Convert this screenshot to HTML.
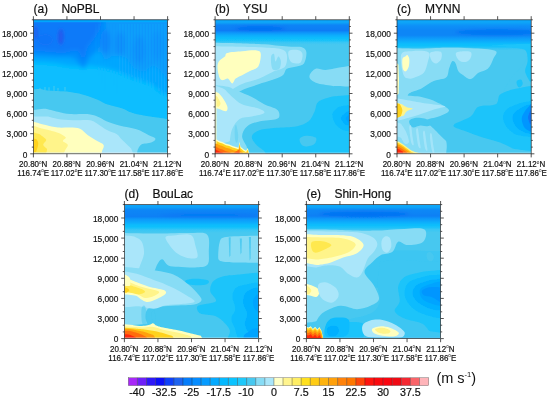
<!DOCTYPE html><html><head><meta charset="utf-8"><title>figure</title>
<style>html,body{margin:0;padding:0;background:#fff}svg{display:block}text{font-family:"Liberation Sans",sans-serif;fill:#111}.b{stroke:#111;stroke-width:0.2px}.n{stroke:none}</style></head><body>
<svg width="550" height="400" viewBox="0 0 550 400">
<rect width="550" height="400" fill="#fff"/>
<defs>
<clipPath id="cp"><rect x="0" y="0" width="134.2" height="134.0"/></clipPath>
<filter id="bl3" x="-20%" y="-20%" width="140%" height="140%"><feGaussianBlur stdDeviation="3"/></filter>
<filter id="bl25" x="-20%" y="-20%" width="140%" height="140%"><feGaussianBlur stdDeviation="2.2"/></filter>
<filter id="bl2" x="-20%" y="-50%" width="140%" height="200%"><feGaussianBlur stdDeviation="1.5"/></filter>
<filter id="bl05" x="-5%" y="-5%" width="110%" height="110%"><feGaussianBlur stdDeviation="0.45"/></filter>
<linearGradient id="ga" x1="0" y1="0" x2="0" y2="1"><stop offset="0" stop-color="#05b4ff"/><stop offset="0.03" stop-color="#05a0ff"/><stop offset="0.08" stop-color="#0592ff"/><stop offset="0.22" stop-color="#0598ff"/><stop offset="0.32" stop-color="#05a8ff"/><stop offset="0.42" stop-color="#05b8ff"/><stop offset="0.52" stop-color="#04befe"/><stop offset="1" stop-color="#08c0fe"/></linearGradient>
<linearGradient id="gb" x1="0" y1="0" x2="0" y2="1"><stop offset="0" stop-color="#10a8fa"/><stop offset="0.02" stop-color="#10a4f8"/><stop offset="0.04" stop-color="#0a84f6"/><stop offset="0.08" stop-color="#0a7cf5"/><stop offset="0.095" stop-color="#0894fa"/><stop offset="0.115" stop-color="#08acfc"/><stop offset="0.135" stop-color="#0cbcfc"/><stop offset="0.152" stop-color="#14c2fa"/><stop offset="0.168" stop-color="#38c6f5"/><stop offset="0.185" stop-color="#46c8f0"/><stop offset="1" stop-color="#46c8f0"/></linearGradient>
<linearGradient id="gc" x1="0" y1="0" x2="0" y2="1"><stop offset="0" stop-color="#10a8fa"/><stop offset="0.02" stop-color="#10a4f8"/><stop offset="0.045" stop-color="#0a90f8"/><stop offset="0.08" stop-color="#0a86f6"/><stop offset="0.115" stop-color="#0a86f6"/><stop offset="0.135" stop-color="#0898fa"/><stop offset="0.16" stop-color="#08acfc"/><stop offset="0.18" stop-color="#0cbcfc"/><stop offset="0.2" stop-color="#14c2fa"/><stop offset="0.215" stop-color="#38c6f5"/><stop offset="0.235" stop-color="#46c8f0"/><stop offset="1" stop-color="#46c8f0"/></linearGradient>
<linearGradient id="gd" x1="0" y1="0" x2="0" y2="1"><stop offset="0" stop-color="#10a4fa"/><stop offset="0.02" stop-color="#10a0f8"/><stop offset="0.04" stop-color="#0a86f6"/><stop offset="0.09" stop-color="#0a80f5"/><stop offset="0.108" stop-color="#0898fa"/><stop offset="0.135" stop-color="#08acfc"/><stop offset="0.152" stop-color="#0cbcfc"/><stop offset="0.172" stop-color="#14c2fa"/><stop offset="0.188" stop-color="#38c6f5"/><stop offset="0.21" stop-color="#46c8f0"/><stop offset="1" stop-color="#46c8f0"/></linearGradient>
<linearGradient id="ge" x1="0" y1="0" x2="0" y2="1"><stop offset="0" stop-color="#10a8fa"/><stop offset="0.02" stop-color="#10a4f8"/><stop offset="0.04" stop-color="#0a88f6"/><stop offset="0.085" stop-color="#0a80f5"/><stop offset="0.105" stop-color="#0896fa"/><stop offset="0.13" stop-color="#08acfc"/><stop offset="0.15" stop-color="#0cbcfc"/><stop offset="0.168" stop-color="#14c2fa"/><stop offset="0.185" stop-color="#38c6f5"/><stop offset="0.205" stop-color="#46c8f0"/><stop offset="1" stop-color="#46c8f0"/></linearGradient>
</defs>
<g transform="translate(33.4,19.8)"><g clip-path="url(#cp)"><g filter="url(#bl05)">
<rect x="0.0" y="0.0" width="134.2" height="134.0" fill="#07beff" />
<g filter="url(#bl25)">
<path d="M-10.0,-10.0L-10.0,42.0C-5.0,42.2 11.7,42.3 20.0,43.0C23.3,43.5 33.3,45.5 40.0,46.0C46.7,46.5 53.3,45.3 60.0,46.0C66.7,46.7 73.3,48.0 80.0,50.0C86.7,52.0 93.7,55.7 100.0,58.0C106.3,60.3 113.3,61.7 118.0,64.0C122.7,66.3 126.3,70.7 128.0,72.0C133.3,74.7 146.3,78.7 150.0,80.0L150.0,-10.0L-10.0,-10.0Z" fill="#05a6ff" />
<path d="M-10.0,-10.0L-10.0,36.0C-5.0,36.2 11.7,36.7 20.0,37.0C23.3,37.2 35.0,36.2 40.0,38.0C45.0,39.8 47.3,48.0 50.0,48.0C52.7,48.0 53.3,40.7 56.0,38.0C58.7,35.3 63.3,31.7 66.0,32.0C68.7,32.3 69.7,39.3 72.0,40.0C74.3,40.7 76.7,36.3 80.0,36.0C83.3,35.7 88.7,36.0 92.0,38.0C95.3,40.0 97.0,45.7 100.0,48.0C103.0,50.3 106.7,52.3 110.0,52.0C113.3,51.7 117.0,46.0 120.0,46.0C123.0,46.0 126.7,51.0 128.0,52.0C130.7,54.7 134.7,60.3 136.0,62.0L150.0,64.0L150.0,-10.0L-10.0,-10.0Z" fill="#0898fb" />
<path d="M-10.0,-10.0L-10.0,36.0C-5.0,36.2 11.7,36.7 20.0,37.0C23.3,37.2 35.0,36.2 40.0,38.0C45.0,39.8 47.3,48.0 50.0,48.0C52.7,48.0 53.7,41.0 56.0,38.0C58.3,35.0 61.7,33.0 64.0,30.0C66.3,27.0 69.0,21.7 70.0,20.0C71.7,13.3 73.3,-5.0 74.0,-10.0L-10.0,-10.0Z" fill="#068cfc" />
<path d="M-10.0,-10.0L-10.0,31.0C-5.7,31.2 9.3,31.7 16.0,32.0C18.3,32.2 25.3,33.2 30.0,33.0C34.7,32.8 40.7,29.8 44.0,31.0C47.3,32.2 48.3,40.5 50.0,40.0C51.7,39.5 52.3,31.3 54.0,28.0C55.7,24.7 58.0,23.0 60.0,20.0C62.0,17.0 65.0,11.7 66.0,10.0C67.7,5.0 69.3,-6.7 70.0,-10.0L-10.0,-10.0Z" fill="#0a7af9" />
<ellipse cx="72" cy="22" rx="5" ry="12" fill="#0a80fa" opacity="0.8"/>
<ellipse cx="87" cy="24" rx="5" ry="12" fill="#0a84fa" opacity="0.7"/>
<ellipse cx="106" cy="30" rx="6" ry="14" fill="#0a84fa" opacity="0.6"/>
<ellipse cx="124" cy="26" rx="6" ry="14" fill="#0a88fc" opacity="0.5"/>
</g>
<g filter="url(#bl2)">
<ellipse cx="27.4" cy="17" rx="3" ry="8" fill="#2458ec" opacity="0.85"/>
<ellipse cx="2.5" cy="13" rx="2.5" ry="7" fill="#2060ee" opacity="0.8"/>
<ellipse cx="12" cy="20" rx="8" ry="6" fill="#0c70f6" opacity="0.6"/>
</g>
<rect x="0.0" y="0.0" width="134.2" height="2.4" fill="#05aeff" opacity="0.85"/>
<rect x="62" y="4" width="1.1" height="44" fill="#30c0ff" opacity="0.12"/>
<rect x="65" y="4" width="1.1" height="52" fill="#30c0ff" opacity="0.12"/>
<rect x="68" y="4" width="1.1" height="60" fill="#30c0ff" opacity="0.12"/>
<rect x="71" y="4" width="1.1" height="67" fill="#30c0ff" opacity="0.12"/>
<rect x="74" y="4" width="1.1" height="47" fill="#30c0ff" opacity="0.12"/>
<rect x="77" y="4" width="1.1" height="55" fill="#30c0ff" opacity="0.12"/>
<rect x="80" y="4" width="1.1" height="62" fill="#30c0ff" opacity="0.12"/>
<rect x="83" y="4" width="1.1" height="70" fill="#30c0ff" opacity="0.12"/>
<rect x="86" y="4" width="1.1" height="50" fill="#30c0ff" opacity="0.28"/>
<rect x="89" y="4" width="1.1" height="58" fill="#30c0ff" opacity="0.28"/>
<rect x="92" y="4" width="1.1" height="66" fill="#30c0ff" opacity="0.28"/>
<rect x="95" y="4" width="1.1" height="73" fill="#30c0ff" opacity="0.28"/>
<rect x="98" y="4" width="1.1" height="53" fill="#30c0ff" opacity="0.28"/>
<rect x="101" y="4" width="1.1" height="61" fill="#30c0ff" opacity="0.28"/>
<rect x="104" y="4" width="1.1" height="68" fill="#30c0ff" opacity="0.28"/>
<rect x="107" y="4" width="1.1" height="76" fill="#30c0ff" opacity="0.28"/>
<rect x="110" y="4" width="1.1" height="56" fill="#30c0ff" opacity="0.28"/>
<rect x="113" y="4" width="1.1" height="64" fill="#30c0ff" opacity="0.28"/>
<rect x="116" y="4" width="1.1" height="72" fill="#30c0ff" opacity="0.28"/>
<rect x="119" y="4" width="1.1" height="79" fill="#30c0ff" opacity="0.28"/>
<rect x="122" y="4" width="1.1" height="59" fill="#30c0ff" opacity="0.28"/>
<rect x="125" y="4" width="1.1" height="67" fill="#30c0ff" opacity="0.28"/>
<rect x="128" y="4" width="1.1" height="74" fill="#30c0ff" opacity="0.28"/>
<rect x="131" y="4" width="1.1" height="82" fill="#30c0ff" opacity="0.28"/>
<rect x="6" y="68" width="1.2" height="3" fill="#46c8f0"/>
<rect x="11" y="67" width="1.2" height="4" fill="#46c8f0"/>
<rect x="15" y="67.5" width="1.2" height="3.5" fill="#46c8f0"/>
<rect x="20" y="66" width="1.2" height="5" fill="#46c8f0"/>
<rect x="24" y="68" width="1.2" height="3" fill="#46c8f0"/>
<rect x="31" y="67" width="1.2" height="4" fill="#46c8f0"/>
<path d="M-2.5,69.8C-0.8,69.7 4.5,69.2 7.4,69.3C8.6,69.6 11.9,70.5 14.7,70.8C17.6,71.1 20.9,71.0 24.5,71.3C28.2,71.5 32.7,71.7 36.8,72.3C40.9,72.8 44.6,73.5 49.1,74.7C53.6,75.9 59.7,78.0 63.8,79.6C67.9,81.2 69.5,83.0 73.6,84.5C77.7,86.0 84.3,87.0 88.4,88.4C92.5,89.8 94.5,91.6 98.2,92.8C101.9,94.1 105.5,94.9 110.5,95.8C115.4,96.7 124.8,97.8 127.6,98.2C132.5,98.9 137.9,99.5 139.9,99.7L139.9,140.9L-2.5,140.9L-2.5,69.8Z" fill="#46c8f0" />
<path d="M-2.5,90.6C0.0,90.4 7.8,88.7 12.3,88.9C14.3,89.4 20.5,91.0 24.5,91.9C28.6,92.8 31.9,93.9 36.8,94.3C41.7,94.7 49.5,93.9 54.0,94.3C58.5,94.7 60.5,95.5 63.8,96.8C67.1,98.0 70.0,100.2 73.6,101.7C77.3,103.1 81.0,104.3 85.9,105.6C90.8,106.9 98.2,107.9 103.1,109.5C108.0,111.1 112.2,113.8 115.4,115.4C118.5,116.9 121.6,117.6 122.0,118.8C122.4,120.0 120.1,121.8 117.8,122.7C115.5,123.7 110.2,123.5 108.0,124.7C105.8,125.9 104.9,129.0 104.3,129.9C103.5,132.5 103.3,139.0 103.1,140.9L-2.5,140.9L-2.5,90.6Z" fill="#87dcf5" />
<path d="M-2.5,96.8C0.4,96.8 10.2,96.4 14.7,96.8C16.4,97.2 20.5,98.6 24.5,99.2C28.6,99.8 34.0,100.2 39.3,100.4C44.6,100.6 52.3,99.8 56.5,100.4C60.6,101.1 61.4,102.5 64.3,104.1C67.2,105.8 70.4,108.5 73.6,110.2C76.8,112.0 80.9,112.7 83.5,114.4C86.0,116.1 86.5,117.9 88.9,120.3C91.2,122.7 96.2,127.2 97.7,128.6C99.7,132.1 100.6,138.8 101.1,140.9L-2.5,140.9L-2.5,96.8Z" fill="#aae6fa" />
<path d="M-2.5,101.7C-1.2,101.9 2.5,102.5 4.9,103.1C6.1,103.5 9.0,104.6 12.3,105.3C15.5,106.1 20.5,107.4 24.5,107.8C28.6,108.2 33.1,107.6 36.8,107.8C40.5,108.0 43.7,107.8 46.6,109.0C49.6,110.3 51.6,113.3 54.5,115.4C57.4,117.4 61.2,119.6 63.8,121.3C66.4,122.9 69.4,123.6 70.2,125.2C71.0,126.8 69.0,130.1 68.7,131.1C68.2,133.7 67.5,139.2 67.3,140.9L-2.5,140.9L-2.5,101.7Z" fill="#ffffbe" />
<path d="M-2.5,105.1C-0.4,105.8 6.1,108.0 9.8,109.0C11.5,109.4 16.8,110.7 19.6,111.5C22.5,112.3 24.9,112.9 27.0,113.9C29.1,115.0 32.0,116.6 32.4,117.8C32.8,119.1 29.1,120.0 29.5,121.3C29.8,122.5 34.0,123.7 34.4,125.2C34.8,126.7 32.3,129.3 31.9,130.1C30.6,132.7 27.4,139.1 26.5,140.9L-2.5,140.9L-2.5,105.1Z" fill="#fff48a" />
<path d="M-2.5,112.0C-0.8,112.5 4.8,113.8 7.4,115.1C8.3,116.0 12.4,118.4 12.8,120.0C13.2,121.7 9.7,123.4 9.8,125.0C10.0,126.5 13.1,128.4 13.7,129.1C13.7,131.8 10.5,138.9 9.8,140.9L-2.5,140.9L-2.5,112.0Z" fill="#ffe850" />
<path d="M-2.5,117.8C-1.5,118.2 2.2,118.7 3.4,119.8C3.7,120.5 5.0,122.3 4.9,124.2C4.8,126.2 3.3,130.3 2.9,131.6C1.7,133.0 -1.6,132.4 -2.5,132.5L-2.5,117.8Z" fill="#ffd21e" />
<rect x="0.0" y="132.6" width="134.2" height="1.4" fill="#dff0f8" opacity="0.7"/>
</g></g>
<rect x="0" y="0" width="134.2" height="134.0" fill="none" stroke="#2a2a2a" stroke-width="0.7"/>
<path d="M0.00,134.0v3.6M0.00,0v-3.6M33.55,134.0v3.6M33.55,0v-3.6M67.10,134.0v3.6M67.10,0v-3.6M100.65,134.0v3.6M100.65,0v-3.6M134.20,134.0v3.6M134.20,0v-3.6M0,134.00h-3.2M134.2,134.00h3.2M0,127.30h-1.6M134.2,127.30h1.6M0,120.60h-1.6M134.2,120.60h1.6M0,113.90h-3.2M134.2,113.90h3.2M0,107.20h-1.6M134.2,107.20h1.6M0,100.50h-1.6M134.2,100.50h1.6M0,93.80h-3.2M134.2,93.80h3.2M0,87.10h-1.6M134.2,87.10h1.6M0,80.40h-1.6M134.2,80.40h1.6M0,73.70h-3.2M134.2,73.70h3.2M0,67.00h-1.6M134.2,67.00h1.6M0,60.30h-1.6M134.2,60.30h1.6M0,53.60h-3.2M134.2,53.60h3.2M0,46.90h-1.6M134.2,46.90h1.6M0,40.20h-1.6M134.2,40.20h1.6M0,33.50h-3.2M134.2,33.50h3.2M0,26.80h-1.6M134.2,26.80h1.6M0,20.10h-1.6M134.2,20.10h1.6M0,13.40h-3.2M134.2,13.40h3.2M0,6.70h-1.6M134.2,6.70h1.6M0,0.00h-1.6M134.2,0.00h1.6" stroke="#2a2a2a" stroke-width="0.8" fill="none"/>
<text transform="translate(-6.0,137.7) scale(0.87,1)" font-size="9.6" text-anchor="end" class="b">0</text>
<text transform="translate(-6.0,117.6) scale(0.87,1)" font-size="9.6" text-anchor="end" class="b">3,000</text>
<text transform="translate(-6.0,97.5) scale(0.87,1)" font-size="9.6" text-anchor="end" class="b">6,000</text>
<text transform="translate(-6.0,77.4) scale(0.87,1)" font-size="9.6" text-anchor="end" class="b">9,000</text>
<text transform="translate(-6.0,57.3) scale(0.87,1)" font-size="9.6" text-anchor="end" class="b">12,000</text>
<text transform="translate(-6.0,37.2) scale(0.87,1)" font-size="9.6" text-anchor="end" class="b">15,000</text>
<text transform="translate(-6.0,17.1) scale(0.87,1)" font-size="9.6" text-anchor="end" class="b">18,000</text>
<text transform="translate(-0.2,147.3) scale(0.86,1)" font-size="9.3" text-anchor="middle" class="b">20.80<tspan font-size="5.4" dy="-3.6" class="n">o</tspan><tspan dy="3.6">N</tspan></text>
<text transform="translate(-0.2,156.2) scale(0.86,1)" font-size="9.3" text-anchor="middle" class="b">116.74<tspan font-size="5.4" dy="-3.6" class="n">o</tspan><tspan dy="3.6">E</tspan></text>
<text transform="translate(33.3,147.3) scale(0.86,1)" font-size="9.3" text-anchor="middle" class="b">20.88<tspan font-size="5.4" dy="-3.6" class="n">o</tspan><tspan dy="3.6">N</tspan></text>
<text transform="translate(33.3,156.2) scale(0.86,1)" font-size="9.3" text-anchor="middle" class="b">117.02<tspan font-size="5.4" dy="-3.6" class="n">o</tspan><tspan dy="3.6">E</tspan></text>
<text transform="translate(66.9,147.3) scale(0.86,1)" font-size="9.3" text-anchor="middle" class="b">20.96<tspan font-size="5.4" dy="-3.6" class="n">o</tspan><tspan dy="3.6">N</tspan></text>
<text transform="translate(66.9,156.2) scale(0.86,1)" font-size="9.3" text-anchor="middle" class="b">117.30<tspan font-size="5.4" dy="-3.6" class="n">o</tspan><tspan dy="3.6">E</tspan></text>
<text transform="translate(100.4,147.3) scale(0.86,1)" font-size="9.3" text-anchor="middle" class="b">21.04<tspan font-size="5.4" dy="-3.6" class="n">o</tspan><tspan dy="3.6">N</tspan></text>
<text transform="translate(100.4,156.2) scale(0.86,1)" font-size="9.3" text-anchor="middle" class="b">117.58<tspan font-size="5.4" dy="-3.6" class="n">o</tspan><tspan dy="3.6">E</tspan></text>
<text transform="translate(134.0,147.3) scale(0.86,1)" font-size="9.3" text-anchor="middle" class="b">21.12<tspan font-size="5.4" dy="-3.6" class="n">o</tspan><tspan dy="3.6">N</tspan></text>
<text transform="translate(134.0,156.2) scale(0.86,1)" font-size="9.3" text-anchor="middle" class="b">117.86<tspan font-size="5.4" dy="-3.6" class="n">o</tspan><tspan dy="3.6">E</tspan></text>
<text x="0" y="-6.6" font-size="12" class="b">(a)</text>
<text x="28" y="-6.6" font-size="12" class="b">NoPBL</text>
</g>
<g transform="translate(215.1,19.8)"><g clip-path="url(#cp)"><g filter="url(#bl05)">
<rect x="0" y="0" width="134.2" height="134.0" fill="url(#gb)"/>
<g filter="url(#bl2)">
<ellipse cx="45" cy="8.7" rx="26" ry="2.6" fill="#0a68f2" opacity="0.6"/>
</g>
<path d="M-2.5,23.0C2.0,23.1 16.0,23.3 24.5,23.5C28.6,23.7 42.5,24.1 49.1,24.5C55.6,24.9 59.3,25.6 63.8,26.0C68.3,26.4 72.2,26.7 76.1,27.0C80.0,27.2 84.8,26.7 87.4,27.7C89.9,28.7 91.1,30.2 91.3,32.8C91.6,35.5 90.5,41.3 88.9,43.6C87.2,45.9 84.4,45.7 81.5,46.6C78.6,47.5 74.2,47.4 71.7,49.0C69.1,50.7 70.9,53.8 66.3,56.4C61.7,58.9 51.1,61.7 44.2,64.2C37.2,66.7 29.5,68.8 24.5,71.6C19.6,74.3 16.4,79.3 14.7,80.9C10.2,82.4 0.4,80.9 -2.5,80.9L-2.5,23.0Z" fill="#87dcf5" />
<path d="M-2.5,26.5C2.0,26.6 16.0,26.8 24.5,27.0C28.6,27.1 42.1,27.3 49.1,27.7C56.0,28.1 62.5,28.2 66.3,29.4C70.0,30.6 71.1,31.9 71.7,34.8C72.3,37.7 72.1,43.8 70.0,46.6C67.8,49.3 63.2,49.4 58.9,51.5C54.6,53.5 49.5,56.7 44.2,58.8C38.9,60.9 31.9,62.2 27.0,64.2C22.1,66.3 16.8,69.9 14.7,71.1C9.8,72.6 0.4,73.1 -2.5,73.5L-2.5,26.5Z" fill="#aae6fa" />
<path d="M56.0,36.8C56.4,34.7 58.2,33.5 58.9,34.3C59.6,35.1 59.6,41.3 60.4,41.7C61.1,42.1 62.4,36.8 63.3,36.8C64.2,36.8 65.6,39.6 65.8,41.7C65.9,43.7 65.5,47.6 64.3,49.0C63.2,50.4 60.2,50.7 58.9,50.2C57.6,49.8 56.9,48.8 56.5,46.6C56.0,44.3 55.6,38.8 56.0,36.8Z" fill="#87dcf5" />
<path d="M73.6,31.4C75.0,29.6 81.2,29.9 83.5,30.4C85.7,30.9 87.0,32.4 87.4,34.3C87.8,36.3 87.0,40.6 85.9,42.2C84.8,43.7 82.8,43.8 81.0,43.6C79.2,43.5 76.3,43.2 75.1,41.2C73.9,39.1 72.2,33.2 73.6,31.4Z" fill="#aae6fa" />
<path d="M2.5,49.0C2.2,46.2 2.5,43.7 3.7,41.7C4.9,39.6 8.4,38.2 9.8,36.8C11.2,35.3 9.4,34.0 12.3,33.1C15.1,32.2 22.1,31.8 27.0,31.4C31.9,31.0 38.6,30.1 41.7,30.6C44.8,31.1 45.4,31.7 45.7,34.3C45.9,37.0 45.1,43.7 43.2,46.6C41.3,49.4 37.1,50.0 34.4,51.5C31.7,52.9 29.3,54.2 27.0,55.4C24.7,56.6 22.3,57.4 20.6,58.8C19.0,60.2 18.5,63.7 17.2,63.7C15.9,63.7 14.2,59.4 12.8,58.8C11.3,58.3 9.7,60.3 8.3,60.3C7.0,60.3 5.9,60.7 4.9,58.8C3.9,56.9 2.7,51.9 2.5,49.0Z" fill="#ffffbe" />
<path d="M94.5,55.4C95.2,53.5 98.0,49.9 100.6,49.0C103.3,48.2 106.8,50.4 110.5,50.2C114.1,50.1 120.7,48.4 122.7,48.0C127.6,47.2 137.0,45.6 139.9,45.1L139.9,66.7C136.2,66.6 124.0,66.7 117.8,66.2C115.4,65.8 106.7,64.7 103.1,63.7C99.5,62.7 97.7,61.7 96.2,60.3C94.8,58.9 93.8,57.3 94.5,55.4Z" fill="#87dcf5" />
<path d="M139.9,74.7C135.8,75.1 121.5,75.9 115.4,77.2C113.3,78.0 105.8,79.6 103.1,82.1C100.4,84.5 101.0,88.6 99.4,91.9C97.8,95.1 96.3,99.2 93.3,101.7C90.2,104.1 86.3,105.5 81.0,106.6C75.7,107.6 67.5,107.4 61.4,108.0C55.2,108.7 48.3,109.1 44.2,110.5C40.1,111.9 37.4,114.1 36.8,116.4C36.2,118.7 38.5,121.8 40.5,124.2C42.5,126.7 47.7,129.9 49.1,131.1C51.1,133.9 52.2,139.2 52.8,140.9L139.9,140.9L139.9,74.7Z" fill="#1cc4fa" />
<path d="M139.9,84.5C137.0,85.0 126.5,85.8 122.7,87.5C121.8,88.6 117.7,91.5 117.3,94.3C116.9,97.1 118.6,101.5 120.3,104.1C122.0,106.8 126.4,109.2 127.6,110.2C130.9,111.6 137.9,111.7 139.9,112.0L139.9,84.5Z" fill="#0cbcfe" />
<path d="M139.9,90.4C138.5,90.6 133.7,90.6 131.3,91.9C130.4,92.9 126.0,95.9 125.7,98.0C125.4,100.1 128.9,103.5 129.6,104.6C132.0,106.0 138.2,106.2 139.9,106.6L139.9,90.4Z" fill="#06b0ff" />
<path d="M139.9,93.8C138.9,94.0 135.3,94.0 133.8,94.8C133.2,95.5 130.6,97.3 130.6,98.7C130.6,100.1 133.2,102.4 133.8,103.1C135.3,104.0 138.9,104.0 139.9,104.1L139.9,93.8Z" fill="#05a4ff" />
<path d="M84.7,118.8C85.5,117.4 88.2,116.0 90.8,115.9C93.5,115.7 99.2,116.5 100.6,117.8C102.1,119.2 101.0,122.7 99.4,124.2C97.8,125.7 93.1,126.7 90.8,126.7C88.6,126.7 86.9,125.5 85.9,124.2C84.9,122.9 83.9,120.2 84.7,118.8Z" fill="#46c8f0" />
<path d="M-2.5,64.9C0.4,65.3 10.6,66.3 14.7,67.4C16.0,68.0 18.4,69.4 22.1,71.0C25.8,72.7 32.3,74.9 36.8,77.2C41.3,79.4 45.0,82.5 49.1,84.5C53.2,86.6 58.8,87.7 61.4,89.4C63.9,91.1 64.3,93.2 64.3,94.8C64.3,96.4 64.7,98.1 61.4,99.2C58.0,100.4 49.1,100.4 44.2,101.7C39.3,102.9 34.8,104.1 31.9,106.6C29.0,109.0 27.1,113.1 27.0,116.4C26.9,119.6 30.7,124.5 31.4,126.2C32.6,130.3 33.9,138.4 34.4,140.9L-2.5,140.9L-2.5,64.9Z" fill="#87dcf5" />
<path d="M-2.5,64.9C-0.4,65.7 6.5,67.8 9.8,69.8C11.0,71.0 14.3,74.7 17.2,77.2C20.0,79.6 22.5,82.5 27.0,84.5C31.5,86.5 40.5,87.5 44.2,88.9C47.9,90.4 50.3,91.8 49.1,93.1C47.9,94.4 40.9,95.7 36.8,96.8C32.7,97.8 27.8,97.2 24.5,99.2C21.3,101.3 18.8,105.3 17.2,109.0C15.5,112.7 15.1,119.2 14.7,121.3C11.5,123.7 0.4,123.3 -2.5,123.7L-2.5,64.9Z" fill="#aae6fa" />
<path d="M-2.5,71.0C-1.4,71.4 1.8,72.1 3.7,73.5C4.5,74.5 7.2,77.4 8.6,79.6C10.0,81.9 11.9,85.0 12.3,87.0C12.7,88.9 12.3,91.0 11.0,91.4C9.8,91.8 5.9,89.7 4.9,89.4C2.7,88.8 -1.2,87.8 -2.5,87.5L-2.5,71.0Z" fill="#ffffbe" />
<path d="M-2.5,74.7C-1.6,75.1 1.1,75.7 2.5,77.2C2.9,78.2 5.2,81.7 5.4,83.3C5.6,84.9 4.0,86.3 3.7,87.0C2.4,87.4 -1.4,85.9 -2.5,85.7L-2.5,74.7Z" fill="#fff48a" />
<path d="M19.6,109.0C19.8,106.5 20.5,104.0 21.1,105.1C21.7,106.2 22.9,112.5 23.1,115.4C23.2,118.3 22.6,121.9 22.1,122.7C21.6,123.6 20.5,122.6 20.1,120.3C19.7,118.0 19.5,111.6 19.6,109.0Z" fill="#46c8f0" opacity="0.35"/>
<path d="M-5.0,118.8L0.0,118.8L0.6,119.1L4.0,121.2L7.4,122.3L10.8,123.9L14.1,124.8L17.5,126.1L20.9,127.3L23.5,128.0L24.3,122.0L25.4,127.0L28.8,129.8L31.0,130.9L32.7,128.1L33.8,132.1L34.5,134.4L35.3,140.0L-5.0,140.0Z" fill="#ffffbe" />
<path d="M-5.0,120.3L0.0,120.3L0.6,120.6L4.0,122.7L7.4,123.8L10.8,125.4L14.1,126.3L17.5,127.6L20.9,128.8L23.5,129.5L24.3,123.5L25.4,128.5L28.8,131.3L31.0,132.4L32.7,129.6L33.8,133.6L34.6,140.0L-5.0,140.0Z" fill="#ffd21e" />
<path d="M-5.0,122.8L0.0,122.8L0.6,123.1L4.0,125.2L7.4,126.3L10.8,127.9L14.1,128.8L17.5,130.1L20.9,131.3L23.5,132.0L24.3,126.0L25.4,131.0L28.8,133.8L32.7,132.1L33.5,140.0L-5.0,140.0Z" fill="#ffa010" />
<path d="M-5.0,126.3L0.0,126.3L0.6,126.6L4.0,128.7L7.4,129.8L10.8,131.4L14.1,132.3L17.5,133.6L24.3,129.5L25.1,140.0L-5.0,140.0Z" fill="#ff6c08" />
<path d="M-5.0,129.3L0.0,129.3L0.6,129.6L4.0,131.7L7.4,132.8L10.8,134.4L24.3,132.5L25.1,140.0L-5.0,140.0Z" fill="#ff2a08" />
<rect x="0.0" y="80.0" width="1.4" height="44.0" fill="#ffffbe" opacity="0.9"/>
<rect x="0.0" y="132.8" width="134.2" height="1.2" fill="#e8f4fa" opacity="0.6"/>
</g></g>
<rect x="0" y="0" width="134.2" height="134.0" fill="none" stroke="#2a2a2a" stroke-width="0.7"/>
<path d="M0.00,134.0v3.6M0.00,0v-3.6M33.55,134.0v3.6M33.55,0v-3.6M67.10,134.0v3.6M67.10,0v-3.6M100.65,134.0v3.6M100.65,0v-3.6M134.20,134.0v3.6M134.20,0v-3.6M0,134.00h-3.2M134.2,134.00h3.2M0,127.30h-1.6M134.2,127.30h1.6M0,120.60h-1.6M134.2,120.60h1.6M0,113.90h-3.2M134.2,113.90h3.2M0,107.20h-1.6M134.2,107.20h1.6M0,100.50h-1.6M134.2,100.50h1.6M0,93.80h-3.2M134.2,93.80h3.2M0,87.10h-1.6M134.2,87.10h1.6M0,80.40h-1.6M134.2,80.40h1.6M0,73.70h-3.2M134.2,73.70h3.2M0,67.00h-1.6M134.2,67.00h1.6M0,60.30h-1.6M134.2,60.30h1.6M0,53.60h-3.2M134.2,53.60h3.2M0,46.90h-1.6M134.2,46.90h1.6M0,40.20h-1.6M134.2,40.20h1.6M0,33.50h-3.2M134.2,33.50h3.2M0,26.80h-1.6M134.2,26.80h1.6M0,20.10h-1.6M134.2,20.10h1.6M0,13.40h-3.2M134.2,13.40h3.2M0,6.70h-1.6M134.2,6.70h1.6M0,0.00h-1.6M134.2,0.00h1.6" stroke="#2a2a2a" stroke-width="0.8" fill="none"/>
<text transform="translate(-6.0,137.7) scale(0.87,1)" font-size="9.6" text-anchor="end" class="b">0</text>
<text transform="translate(-6.0,117.6) scale(0.87,1)" font-size="9.6" text-anchor="end" class="b">3,000</text>
<text transform="translate(-6.0,97.5) scale(0.87,1)" font-size="9.6" text-anchor="end" class="b">6,000</text>
<text transform="translate(-6.0,77.4) scale(0.87,1)" font-size="9.6" text-anchor="end" class="b">9,000</text>
<text transform="translate(-6.0,57.3) scale(0.87,1)" font-size="9.6" text-anchor="end" class="b">12,000</text>
<text transform="translate(-6.0,37.2) scale(0.87,1)" font-size="9.6" text-anchor="end" class="b">15,000</text>
<text transform="translate(-6.0,17.1) scale(0.87,1)" font-size="9.6" text-anchor="end" class="b">18,000</text>
<text transform="translate(-0.2,147.3) scale(0.86,1)" font-size="9.3" text-anchor="middle" class="b">20.80<tspan font-size="5.4" dy="-3.6" class="n">o</tspan><tspan dy="3.6">N</tspan></text>
<text transform="translate(-0.2,156.2) scale(0.86,1)" font-size="9.3" text-anchor="middle" class="b">116.74<tspan font-size="5.4" dy="-3.6" class="n">o</tspan><tspan dy="3.6">E</tspan></text>
<text transform="translate(33.3,147.3) scale(0.86,1)" font-size="9.3" text-anchor="middle" class="b">20.88<tspan font-size="5.4" dy="-3.6" class="n">o</tspan><tspan dy="3.6">N</tspan></text>
<text transform="translate(33.3,156.2) scale(0.86,1)" font-size="9.3" text-anchor="middle" class="b">117.02<tspan font-size="5.4" dy="-3.6" class="n">o</tspan><tspan dy="3.6">E</tspan></text>
<text transform="translate(66.9,147.3) scale(0.86,1)" font-size="9.3" text-anchor="middle" class="b">20.96<tspan font-size="5.4" dy="-3.6" class="n">o</tspan><tspan dy="3.6">N</tspan></text>
<text transform="translate(66.9,156.2) scale(0.86,1)" font-size="9.3" text-anchor="middle" class="b">117.30<tspan font-size="5.4" dy="-3.6" class="n">o</tspan><tspan dy="3.6">E</tspan></text>
<text transform="translate(100.4,147.3) scale(0.86,1)" font-size="9.3" text-anchor="middle" class="b">21.04<tspan font-size="5.4" dy="-3.6" class="n">o</tspan><tspan dy="3.6">N</tspan></text>
<text transform="translate(100.4,156.2) scale(0.86,1)" font-size="9.3" text-anchor="middle" class="b">117.58<tspan font-size="5.4" dy="-3.6" class="n">o</tspan><tspan dy="3.6">E</tspan></text>
<text transform="translate(134.0,147.3) scale(0.86,1)" font-size="9.3" text-anchor="middle" class="b">21.12<tspan font-size="5.4" dy="-3.6" class="n">o</tspan><tspan dy="3.6">N</tspan></text>
<text transform="translate(134.0,156.2) scale(0.86,1)" font-size="9.3" text-anchor="middle" class="b">117.86<tspan font-size="5.4" dy="-3.6" class="n">o</tspan><tspan dy="3.6">E</tspan></text>
<text x="0" y="-6.6" font-size="12" class="b">(b)</text>
<text x="28" y="-6.6" font-size="12" class="b">YSU</text>
</g>
<g transform="translate(397.0,19.8)"><g clip-path="url(#cp)"><g filter="url(#bl05)">
<rect x="0" y="0" width="134.2" height="134.0" fill="url(#gc)"/>
<g filter="url(#bl2)">
<ellipse cx="100" cy="12.5" rx="42" ry="3.2" fill="#0a6cf2" opacity="0.6"/>
</g>
<path d="M-2.5,27.9C2.0,28.0 16.0,28.5 24.5,28.4C28.6,28.3 40.9,27.5 49.1,27.5C57.3,27.4 64.6,27.5 73.6,27.9C82.6,28.3 94.1,29.5 103.1,29.9C112.1,30.3 123.3,28.8 127.6,30.4C132.0,31.9 129.9,36.1 129.1,39.2C128.3,42.3 125.0,46.2 122.7,49.0C120.4,51.9 117.8,53.1 115.4,56.4C112.9,59.6 110.0,64.5 108.0,68.6C106.0,72.7 103.9,78.8 103.1,80.9C84.7,82.9 15.1,80.9 -2.5,80.9L-2.5,27.9Z" fill="#46c8f0" />
<path d="M-2.5,28.4C2.0,28.5 16.0,29.0 24.5,28.9C28.6,28.8 40.9,28.0 49.1,27.9C57.3,27.9 65.5,27.9 73.6,28.4C81.8,28.9 94.4,29.1 98.2,30.9C101.9,32.7 97.4,36.2 96.2,39.2C95.0,42.2 93.3,46.7 90.8,49.0C88.4,51.3 84.4,51.2 81.5,52.9C78.6,54.7 76.2,58.9 73.6,59.3C71.1,59.7 68.3,56.7 66.3,55.4C64.2,54.1 62.7,53.5 61.4,51.5C60.1,49.4 59.5,44.8 58.4,43.1C57.4,41.5 56.0,40.7 55.0,41.7C53.9,42.6 53.0,46.3 52.0,49.0C51.1,51.7 51.6,55.8 49.1,57.8C46.6,59.9 40.9,59.5 36.8,61.3C32.7,63.1 28.6,66.6 24.5,68.6C20.5,70.7 14.7,71.5 12.3,73.5C9.8,75.6 10.2,79.7 9.8,80.9C7.4,82.1 -0.4,80.9 -2.5,80.9L-2.5,28.4Z" fill="#87dcf5" />
<path d="M4.4,34.3C6.0,31.0 10.2,31.7 14.7,31.4C19.2,31.0 28.7,30.6 31.4,32.4C34.1,34.1 31.7,38.3 30.9,41.7C30.2,45.1 28.9,50.2 27.0,52.7C25.1,55.2 22.5,55.8 19.6,56.9C16.8,57.9 12.2,59.7 9.8,58.8C7.4,57.9 6.3,55.6 5.4,51.5C4.5,47.4 2.9,37.7 4.4,34.3Z" fill="#aae6fa" />
<path d="M33.4,32.8C34.9,31.4 41.9,30.8 43.7,31.9C45.5,32.9 44.9,37.3 44.2,39.2C43.4,41.2 40.9,43.4 39.3,43.6C37.6,43.8 35.3,42.2 34.4,40.4C33.4,38.6 31.8,34.3 33.4,32.8Z" fill="#aae6fa" />
<path d="M59.4,32.8C61.3,31.4 70.8,31.0 73.1,31.9C75.5,32.8 74.4,36.5 73.6,38.2C72.9,40.0 70.7,41.8 68.7,42.2C66.8,42.5 63.4,42.0 61.9,40.4C60.3,38.9 57.5,34.3 59.4,32.8Z" fill="#aae6fa" />
<path d="M5.4,39.2C5.8,37.2 7.5,37.4 8.3,36.8C9.2,36.1 9.7,34.9 10.3,35.3C11.0,35.7 12.0,37.3 12.3,39.2C12.5,41.1 12.4,44.5 11.8,46.6C11.2,48.6 9.8,51.1 8.8,51.5C7.9,51.9 6.5,51.1 5.9,49.0C5.3,47.0 5.0,41.3 5.4,39.2Z" fill="#ffffbe" />
<path d="M119.8,61.3C120.4,60.3 123.0,59.3 124.0,59.8C124.9,60.3 125.9,62.9 125.7,64.2C125.5,65.5 123.6,67.4 122.7,67.6C121.8,67.9 120.8,66.7 120.3,65.7C119.8,64.6 119.2,62.3 119.8,61.3Z" fill="#1cc4fa" />
<path d="M93.3,25.5C95.7,25.7 103.1,26.4 108.0,27.0C112.9,27.5 119.2,27.9 122.7,28.7C126.2,29.4 127.8,29.2 129.1,31.4C130.4,33.5 130.7,38.3 130.6,41.7C130.4,45.0 127.8,48.2 128.1,51.5C128.5,54.7 131.8,59.6 132.5,61.3C134.5,63.3 138.7,63.3 139.9,63.7L139.9,23.5C132.1,23.9 98.6,24.9 93.3,25.5Z" fill="#1cc4fa" />
<path d="M139.9,64.9C135.8,65.7 121.5,68.2 115.4,69.8C113.3,70.6 105.9,72.3 103.1,74.7C100.3,77.2 102.3,82.5 98.7,84.5C95.1,86.6 85.7,84.9 81.5,87.0C77.3,89.0 77.8,93.7 73.6,96.8C69.5,99.9 57.3,103.1 56.5,105.6C55.6,108.0 63.8,109.4 68.7,111.5C73.6,113.5 80.2,116.0 85.9,117.8C91.6,119.7 98.2,120.9 103.1,122.7C108.0,124.5 113.3,127.6 115.4,128.6C121.5,130.1 135.8,131.1 139.9,131.6L139.9,64.9Z" fill="#1cc4fa" />
<path d="M139.9,80.6C137.0,81.1 127.6,82.1 122.7,83.5C120.7,84.4 113.2,86.7 110.5,88.9C107.7,91.1 106.2,93.8 106.0,96.8C105.8,99.7 107.3,103.6 109.2,106.6C111.2,109.5 116.4,113.1 117.8,114.4C122.9,116.3 136.2,117.3 139.9,117.8L139.9,80.6Z" fill="#0cbcfe" />
<path d="M139.9,83.5C137.9,83.9 131.3,84.5 127.6,86.0C126.0,87.0 119.9,90.1 117.8,92.4C115.8,94.6 115.0,96.6 115.4,99.2C115.7,101.8 117.7,105.8 119.8,108.0C121.8,110.3 126.3,112.1 127.6,112.9C131.0,114.1 137.9,114.6 139.9,114.9L139.9,83.5Z" fill="#06b0ff" />
<path d="M139.9,82.5C138.9,82.9 135.8,83.0 133.8,84.5C132.8,85.7 129.2,89.4 127.6,91.9C126.1,94.3 124.7,96.5 124.7,99.2C124.7,101.9 126.1,105.9 127.6,108.0C129.2,110.2 132.8,111.3 133.8,112.0C135.8,112.8 138.9,112.8 139.9,112.9L139.9,82.5Z" fill="#0596ff" />
<path d="M139.9,86.5C139.0,86.8 136.0,86.7 134.5,88.4C133.9,89.8 131.4,94.3 131.1,96.8C130.7,99.2 132.3,102.1 132.5,103.1C133.4,104.8 135.8,106.0 136.5,106.6L139.9,107.1L139.9,86.5Z" fill="#0e76f6" />
<path d="M-2.5,57.5C0.4,58.0 11.5,58.0 14.7,60.0C15.1,61.6 18.0,67.3 17.2,69.8C16.4,72.3 8.6,74.0 9.8,75.2C11.0,76.4 19.6,76.0 24.5,77.2C29.5,78.3 34.7,79.9 39.3,82.1C43.9,84.3 51.6,87.9 52.0,90.4C52.4,92.8 45.5,95.0 41.7,96.8C38.0,98.5 30.3,98.6 29.5,100.7C28.6,102.7 33.5,105.6 36.8,109.0C40.1,112.5 47.0,119.2 49.1,121.3C51.0,126.6 48.3,137.6 48.1,140.9L-2.5,140.9L-2.5,57.5Z" fill="#87dcf5" />
<path d="M-2.5,78.1C0.4,78.6 9.0,80.1 14.7,81.1C17.6,81.6 26.3,83.1 31.9,84.0C37.5,84.9 46.8,85.7 48.1,86.5C49.4,87.3 42.5,88.1 39.8,88.9C37.1,89.7 35.3,90.2 31.9,91.4C28.6,92.5 23.7,94.5 19.6,95.8C15.5,97.1 9.4,98.6 7.4,99.2C3.7,100.2 -0.8,101.3 -2.5,101.7L-2.5,78.1Z" fill="#aae6fa" />
<path d="M12.4,100.8C13.2,99.6 15.4,98.4 17.9,98.1C20.4,97.8 24.8,98.0 27.5,98.8C30.2,99.6 33.7,101.7 34.4,102.9C35.1,104.2 33.4,105.8 31.6,106.3C29.8,106.8 25.9,105.4 23.4,105.6C20.9,105.8 18.2,107.8 16.5,107.7C14.8,107.6 13.8,106.2 13.1,105.0C12.4,103.8 11.6,102.0 12.4,100.8Z" fill="#46c8f0" />
<path d="M-5.0,102.0C-3.5,102.3 1.7,102.3 4.0,104.0C4.8,105.3 7.7,109.0 9.0,112.0C10.3,115.0 12.2,120.0 12.0,122.0C11.8,124.0 9.3,124.7 8.0,124.0C6.7,123.3 4.7,119.0 4.0,118.0C1.8,116.7 -3.5,116.3 -5.0,116.0L-5.0,102.0Z" fill="#aae6fa" opacity="0.8"/>
<path d="M-2.5,82.5C-1.2,82.9 2.9,83.7 4.9,84.5C5.7,85.0 8.0,86.7 9.8,87.5C11.6,88.2 15.7,88.3 15.7,88.9C15.7,89.6 11.3,90.2 9.8,91.4C8.3,92.5 7.4,95.0 6.9,95.8C4.8,96.9 -0.9,97.8 -2.5,98.2L-2.5,82.5Z" fill="#fff48a" />
<path d="M-2.5,83.0C-1.6,83.3 1.6,83.3 2.9,84.5C3.4,85.5 5.2,88.4 5.4,90.4C5.6,92.4 4.2,95.3 3.9,96.3C2.6,97.7 -1.4,98.3 -2.5,98.7L-2.5,83.0Z" fill="#ffd21e" />
<path d="M12.3,108.0C12.2,105.3 13.4,104.4 14.0,106.1C14.6,107.7 15.3,114.7 15.7,117.8C16.2,121.0 16.9,124.4 16.7,125.2C16.4,126.0 15.0,125.6 14.2,122.7C13.5,119.9 12.3,110.8 12.3,108.0Z" fill="#aae6fa" opacity="0.8"/>
<path d="M19.1,111.0C19.1,108.2 20.3,107.4 20.9,109.0C21.4,110.7 22.1,117.6 22.6,120.8C23.0,124.0 23.8,127.3 23.6,128.1C23.3,129.0 21.8,128.5 21.1,125.7C20.4,122.8 19.2,113.8 19.1,111.0Z" fill="#aae6fa" opacity="0.8"/>
<path d="M26.0,113.4C26.0,110.7 27.2,109.8 27.7,111.5C28.3,113.1 29.0,120.0 29.5,123.2C29.9,126.4 30.7,129.8 30.4,130.6C30.2,131.4 28.7,131.0 28.0,128.1C27.2,125.3 26.1,116.2 26.0,113.4Z" fill="#aae6fa" opacity="0.8"/>
<path d="M32.9,115.9C32.9,113.1 34.0,112.3 34.6,113.9C35.2,115.6 35.9,122.5 36.3,125.7C36.8,128.9 37.6,132.2 37.3,133.0C37.1,133.9 35.6,133.4 34.9,130.6C34.1,127.7 32.9,118.7 32.9,115.9Z" fill="#aae6fa" opacity="0.8"/>
<path d="M-5.0,121.5L0.0,121.5L2.0,122.0L6.0,124.5L10.0,127.5L14.0,130.5L18.0,132.3L24.0,133.6L25.0,134.4L25.8,140.0L-5.0,140.0Z" fill="#fff48a" />
<path d="M-5.0,123.0L0.0,123.0L2.0,123.5L6.0,126.0L10.0,129.0L14.0,132.0L18.0,133.8L18.8,140.0L-5.0,140.0Z" fill="#ffd21e" />
<path d="M-5.0,124.5L0.0,124.5L2.0,125.0L6.0,127.5L10.0,130.5L14.0,133.5L14.8,140.0L-5.0,140.0Z" fill="#ffa010" />
<path d="M-5.0,126.7L0.0,126.7L2.0,127.2L6.0,129.7L10.0,132.7L10.8,140.0L-5.0,140.0Z" fill="#ff6c08" />
<path d="M-5.0,129.0L0.0,129.0L2.0,129.5L6.0,132.0L6.8,140.0L-5.0,140.0Z" fill="#ff2a08" />
<rect x="0.0" y="0.0" width="1.6" height="134.0" fill="#fff6b0" opacity="0.0"/>
<path d="M-2.5,44.1C-1.8,44.3 0.7,42.6 1.5,45.1C1.6,47.4 1.9,54.1 2.0,58.8C2.0,63.6 1.8,71.1 1.7,73.5C1.0,76.2 -1.8,74.8 -2.5,75.0L-2.5,44.1Z" fill="#ffffbe" />
<rect x="0.0" y="132.8" width="134.2" height="1.2" fill="#e8f4fa" opacity="0.6"/>
</g></g>
<rect x="0" y="0" width="134.2" height="134.0" fill="none" stroke="#2a2a2a" stroke-width="0.7"/>
<path d="M0.00,134.0v3.6M0.00,0v-3.6M33.55,134.0v3.6M33.55,0v-3.6M67.10,134.0v3.6M67.10,0v-3.6M100.65,134.0v3.6M100.65,0v-3.6M134.20,134.0v3.6M134.20,0v-3.6M0,134.00h-3.2M134.2,134.00h3.2M0,127.30h-1.6M134.2,127.30h1.6M0,120.60h-1.6M134.2,120.60h1.6M0,113.90h-3.2M134.2,113.90h3.2M0,107.20h-1.6M134.2,107.20h1.6M0,100.50h-1.6M134.2,100.50h1.6M0,93.80h-3.2M134.2,93.80h3.2M0,87.10h-1.6M134.2,87.10h1.6M0,80.40h-1.6M134.2,80.40h1.6M0,73.70h-3.2M134.2,73.70h3.2M0,67.00h-1.6M134.2,67.00h1.6M0,60.30h-1.6M134.2,60.30h1.6M0,53.60h-3.2M134.2,53.60h3.2M0,46.90h-1.6M134.2,46.90h1.6M0,40.20h-1.6M134.2,40.20h1.6M0,33.50h-3.2M134.2,33.50h3.2M0,26.80h-1.6M134.2,26.80h1.6M0,20.10h-1.6M134.2,20.10h1.6M0,13.40h-3.2M134.2,13.40h3.2M0,6.70h-1.6M134.2,6.70h1.6M0,0.00h-1.6M134.2,0.00h1.6" stroke="#2a2a2a" stroke-width="0.8" fill="none"/>
<text transform="translate(-6.0,137.7) scale(0.87,1)" font-size="9.6" text-anchor="end" class="b">0</text>
<text transform="translate(-6.0,117.6) scale(0.87,1)" font-size="9.6" text-anchor="end" class="b">3,000</text>
<text transform="translate(-6.0,97.5) scale(0.87,1)" font-size="9.6" text-anchor="end" class="b">6,000</text>
<text transform="translate(-6.0,77.4) scale(0.87,1)" font-size="9.6" text-anchor="end" class="b">9,000</text>
<text transform="translate(-6.0,57.3) scale(0.87,1)" font-size="9.6" text-anchor="end" class="b">12,000</text>
<text transform="translate(-6.0,37.2) scale(0.87,1)" font-size="9.6" text-anchor="end" class="b">15,000</text>
<text transform="translate(-6.0,17.1) scale(0.87,1)" font-size="9.6" text-anchor="end" class="b">18,000</text>
<text transform="translate(-0.2,147.3) scale(0.86,1)" font-size="9.3" text-anchor="middle" class="b">20.80<tspan font-size="5.4" dy="-3.6" class="n">o</tspan><tspan dy="3.6">N</tspan></text>
<text transform="translate(-0.2,156.2) scale(0.86,1)" font-size="9.3" text-anchor="middle" class="b">116.74<tspan font-size="5.4" dy="-3.6" class="n">o</tspan><tspan dy="3.6">E</tspan></text>
<text transform="translate(33.3,147.3) scale(0.86,1)" font-size="9.3" text-anchor="middle" class="b">20.88<tspan font-size="5.4" dy="-3.6" class="n">o</tspan><tspan dy="3.6">N</tspan></text>
<text transform="translate(33.3,156.2) scale(0.86,1)" font-size="9.3" text-anchor="middle" class="b">117.02<tspan font-size="5.4" dy="-3.6" class="n">o</tspan><tspan dy="3.6">E</tspan></text>
<text transform="translate(66.9,147.3) scale(0.86,1)" font-size="9.3" text-anchor="middle" class="b">20.96<tspan font-size="5.4" dy="-3.6" class="n">o</tspan><tspan dy="3.6">N</tspan></text>
<text transform="translate(66.9,156.2) scale(0.86,1)" font-size="9.3" text-anchor="middle" class="b">117.30<tspan font-size="5.4" dy="-3.6" class="n">o</tspan><tspan dy="3.6">E</tspan></text>
<text transform="translate(100.4,147.3) scale(0.86,1)" font-size="9.3" text-anchor="middle" class="b">21.04<tspan font-size="5.4" dy="-3.6" class="n">o</tspan><tspan dy="3.6">N</tspan></text>
<text transform="translate(100.4,156.2) scale(0.86,1)" font-size="9.3" text-anchor="middle" class="b">117.58<tspan font-size="5.4" dy="-3.6" class="n">o</tspan><tspan dy="3.6">E</tspan></text>
<text transform="translate(134.0,147.3) scale(0.86,1)" font-size="9.3" text-anchor="middle" class="b">21.12<tspan font-size="5.4" dy="-3.6" class="n">o</tspan><tspan dy="3.6">N</tspan></text>
<text transform="translate(134.0,156.2) scale(0.86,1)" font-size="9.3" text-anchor="middle" class="b">117.86<tspan font-size="5.4" dy="-3.6" class="n">o</tspan><tspan dy="3.6">E</tspan></text>
<text x="0" y="-6.6" font-size="12" class="b">(c)</text>
<text x="28" y="-6.6" font-size="12" class="b">MYNN</text>
</g>
<g transform="translate(124.4,204.6)"><g clip-path="url(#cp)"><g filter="url(#bl05)">
<rect x="0" y="0" width="134.2" height="134.0" fill="url(#gd)"/>
<g filter="url(#bl2)">
<ellipse cx="85" cy="10.5" rx="50" ry="2.2" fill="#0a70f4" opacity="0.45"/>
</g>
<path d="M-3.4,28.4C2.8,28.5 21.9,29.0 33.8,29.0C39.4,28.9 59.3,28.1 67.5,28.4C75.7,28.6 80.2,27.2 83.0,30.4C85.8,33.5 84.4,42.3 84.4,47.2C84.4,52.2 85.3,57.5 83.0,60.1C80.8,62.7 75.7,62.4 70.9,62.8C66.0,63.1 58.5,62.4 54.0,62.1C49.5,61.8 46.6,62.0 43.9,60.8C41.2,59.5 39.6,54.9 37.8,54.7C36.0,54.4 34.4,57.3 33.1,59.4C31.7,61.5 31.3,64.5 29.7,67.5C28.1,70.5 25.2,72.6 23.6,77.6C22.1,82.7 20.8,94.5 20.2,97.9C15.8,101.2 0.6,97.9 -3.4,97.9L-3.4,28.4Z" fill="#87dcf5" />
<path d="M-2.5,30.9C-0.4,31.0 6.5,30.9 9.8,31.9C11.0,32.7 15.5,33.9 17.2,36.8C18.8,39.6 20.0,44.5 19.6,49.0C19.2,53.5 16.4,58.4 14.7,63.7C13.1,69.0 10.6,78.0 9.8,80.9C7.0,83.7 -0.4,80.9 -2.5,80.9L-2.5,30.9Z" fill="#aae6fa" />
<path d="M41.2,32.4C42.1,31.0 44.9,31.2 49.1,30.9C53.3,30.6 62.6,28.6 66.3,30.4C70.0,32.2 70.1,37.9 71.2,41.7C72.2,45.4 74.3,51.1 72.7,52.9C71.0,54.8 64.9,53.8 61.4,52.9C57.8,52.1 54.4,50.3 51.5,48.0C48.7,45.8 45.9,41.8 44.2,39.2C42.5,36.6 40.4,33.7 41.2,32.4Z" fill="#aae6fa" />
<path d="M93.8,50.6C93.9,47.6 94.2,40.8 95.2,37.8C96.2,34.8 96.1,33.8 99.9,32.7C103.7,31.7 115.1,31.6 118.1,31.4C125.1,31.1 137.8,31.1 141.8,31.1L141.8,58.0C137.2,58.0 121.5,58.2 114.8,58.0C112.5,57.9 104.6,57.8 101.2,57.4C97.9,57.0 96.1,56.8 94.8,55.7C93.6,54.6 93.8,53.6 93.8,50.6Z" fill="#87dcf5" />
<path d="M104.3,32.7L106.3,32.7L106.0,50.6L105.0,52.6Z" fill="#46c8f0" opacity="0.85"/>
<path d="M115.4,33.8L117.5,33.8L117.1,47.9L116.1,50.0Z" fill="#46c8f0" opacity="0.85"/>
<path d="M124.5,32.4L126.6,32.4L126.2,54.0L125.2,56.0Z" fill="#46c8f0" opacity="0.85"/>
<path d="M139.9,67.4C135.8,67.8 122.3,69.1 115.4,69.8C112.5,70.1 102.7,70.5 98.2,71.8C93.7,73.0 90.4,74.6 88.4,77.2C86.3,79.7 85.4,83.7 85.9,87.0C86.4,90.2 93.4,94.4 91.3,96.8C89.3,99.1 76.2,99.1 73.6,101.2C71.1,103.2 73.2,107.3 76.1,109.0C79.0,110.7 86.7,109.8 90.8,111.5C94.9,113.1 98.2,116.4 100.6,118.8C103.1,121.3 105.1,123.7 105.5,126.2C106.0,128.6 103.5,132.3 103.1,133.5C103.5,136.0 107.2,139.7 108.0,140.9L139.9,140.9L139.9,67.4Z" fill="#1cc4fa" />
<path d="M61.4,75.7C62.8,74.9 67.5,74.2 71.2,74.2C74.9,74.2 81.6,74.8 83.5,75.7C85.3,76.6 84.5,78.8 82.5,79.6C80.4,80.4 74.5,80.7 71.2,80.6C67.9,80.5 64.5,79.9 62.8,79.1C61.2,78.3 60.0,76.5 61.4,75.7Z" fill="#1cc4fa" />
<path d="M139.9,77.2C137.0,77.6 127.4,78.6 122.7,79.6C120.9,80.2 114.4,81.0 111.9,83.0C109.5,85.1 108.2,88.3 108.0,91.9C107.8,95.4 111.1,100.4 110.9,104.1C110.8,107.8 107.1,110.7 107.0,113.9C106.9,117.2 109.9,122.1 110.5,123.7C111.8,128.2 114.5,138.0 115.4,140.9L139.9,140.9L139.9,77.2Z" fill="#0cbcfe" />
<path d="M139.9,82.1C137.9,82.4 130.9,82.8 127.6,84.0C126.4,84.9 121.7,86.9 120.3,89.4C118.8,91.9 118.4,95.9 118.8,99.2C119.2,102.5 122.5,105.8 122.7,109.0C123.0,112.3 120.3,116.0 120.3,118.8C120.3,121.7 122.3,125.0 122.7,126.2C126.0,127.8 137.0,128.2 139.9,128.6L139.9,82.1Z" fill="#06b0ff" />
<path d="M139.9,88.4C138.7,88.7 134.4,88.7 132.5,89.9C131.9,90.9 129.0,93.4 128.6,95.8C128.2,98.2 129.0,102.1 130.1,104.1C131.2,106.2 134.2,107.4 135.0,108.0C136.6,108.9 139.1,108.9 139.9,109.0L139.9,88.4Z" fill="#05a4ff" />
<path d="M139.9,122.7C137.9,123.1 131.0,123.5 127.6,124.7C126.3,125.6 121.1,129.2 119.8,130.1C118.4,132.8 119.4,139.1 119.3,140.9L139.9,140.9L139.9,122.7Z" fill="#05a4ff" />
<path d="M139.9,91.9L136.5,93.3C136.1,94.2 134.8,97.4 134.5,98.2C134.8,99.2 136.1,103.1 136.5,104.1L139.9,105.1L139.9,91.9Z" fill="#0596ff" />
<path d="M-5.0,62.0C0.0,62.5 16.0,63.7 25.0,65.0C29.0,65.8 42.5,67.5 49.0,70.0C55.5,72.5 59.8,76.7 64.0,80.0C68.2,83.3 71.8,87.3 74.0,90.0C76.2,92.7 77.7,94.3 77.0,96.0C76.3,97.7 74.2,99.2 70.0,100.0C65.8,100.8 57.7,100.7 52.0,101.0C46.3,101.3 40.7,101.5 36.0,102.0C31.3,102.5 26.5,102.3 24.0,104.0C21.5,105.7 21.2,109.5 21.0,112.0C20.8,114.5 22.7,117.8 23.0,119.0C18.7,120.5 -0.3,120.7 -5.0,121.0L-5.0,62.0Z" fill="#87dcf5" />
<path d="M-2.5,66.4C0.4,66.9 8.6,68.0 14.7,69.8C18.0,71.0 28.6,74.9 34.4,77.2C40.1,79.4 44.6,81.3 49.1,83.5C53.6,85.7 57.8,88.2 61.4,90.4C64.9,92.6 70.6,95.3 70.2,96.8C69.8,98.2 63.7,98.6 58.9,99.2C54.2,99.9 46.6,99.9 41.7,100.7C36.8,101.5 34.0,104.0 29.5,104.1C25.0,104.3 17.2,102.1 14.7,101.7C9.4,101.5 0.4,102.9 -2.5,103.1L-2.5,66.4Z" fill="#aae6fa" />
<path d="M-2.5,70.3C-0.4,71.4 5.3,74.7 9.8,76.7C12.3,77.6 19.6,80.6 24.5,82.1C29.5,83.5 36.5,84.3 39.3,85.5C42.0,86.7 42.1,87.9 41.0,89.4C39.8,90.9 35.5,93.0 32.4,94.3C29.2,95.6 25.4,97.7 22.1,97.3C18.7,96.8 13.9,92.4 12.3,91.4C8.2,90.1 0.0,90.1 -2.5,89.9L-2.5,70.3Z" fill="#ffffbe" />
<path d="M-2.5,73.7C-0.8,74.5 3.7,77.1 7.4,78.6C9.4,79.4 15.1,81.7 19.6,83.0C24.1,84.4 32.7,85.6 34.4,87.0C36.0,88.3 31.7,90.3 29.5,91.4C27.2,92.4 23.5,93.7 20.6,93.3C17.8,92.9 13.7,89.7 12.3,88.9C8.4,88.0 0.0,88.1 -2.5,87.9L-2.5,73.7Z" fill="#fff48a" />
<path d="M-2.5,78.1C-0.8,78.6 4.1,80.0 7.4,81.1C9.0,81.7 15.0,83.4 17.2,84.5C19.4,85.6 21.0,86.6 20.6,87.5C20.2,88.3 16.9,89.7 14.7,89.9C12.5,90.1 8.6,88.7 7.4,88.4C4.5,88.0 -0.8,87.6 -2.5,87.5L-2.5,78.1Z" fill="#ffe850" />
<path d="M-2.5,82.1C-1.6,82.3 1.7,82.9 2.9,83.5C3.3,83.9 5.0,85.2 4.9,86.0C4.8,86.7 2.9,87.6 2.5,87.9C1.2,88.3 -1.6,87.9 -2.5,87.9L-2.5,82.1Z" fill="#ffd21e" />
<path d="M17.2,104.1C17.7,101.4 19.7,100.0 20.6,101.7C21.5,103.3 22.5,110.7 22.6,113.9C22.7,117.2 21.9,120.6 21.1,121.3C20.3,121.9 18.3,120.7 17.7,117.8C17.0,115.0 16.7,106.8 17.2,104.1Z" fill="#46c8f0" opacity="0.5"/>
<path d="M27.0,109.0C27.2,106.8 29.2,105.3 29.9,106.6C30.7,107.9 31.6,114.7 31.4,116.9C31.3,119.1 29.7,121.1 29.0,119.8C28.2,118.5 26.8,111.2 27.0,109.0Z" fill="#46c8f0" opacity="0.5"/>
<path d="M-5.0,119.6C-2.8,119.7 4.7,120.0 8.0,120.3C9.2,120.5 12.7,121.2 15.0,121.3C17.3,121.4 20.2,121.0 22.0,120.8C23.8,120.5 24.8,120.1 26.0,119.8C27.2,119.5 28.0,118.6 29.0,118.8C30.0,119.0 30.8,120.4 32.0,121.0C33.2,121.6 32.8,121.6 36.0,122.3C39.2,123.0 46.2,124.1 51.0,125.1C55.8,126.1 60.8,127.3 65.0,128.3C69.2,129.3 74.2,130.6 76.0,131.0C78.3,132.9 78.5,138.5 79.0,140.0L-5.0,140.0L-5.0,119.6Z" fill="#ffffbe" />
<path d="M-5.0,121.3C-2.5,121.5 5.8,122.0 10.0,122.3C11.7,122.4 16.8,122.8 20.0,122.8C23.2,122.8 25.7,121.9 29.0,122.3C32.3,122.7 35.7,124.3 40.0,125.3C44.3,126.3 50.7,127.3 55.0,128.3C59.3,129.3 64.2,130.8 66.0,131.3C68.3,133.2 68.5,138.6 69.0,140.0L-5.0,140.0L-5.0,121.3Z" fill="#fff48a" />
<path d="M-5.0,122.8C-2.5,123.0 5.8,123.5 10.0,123.8C11.7,124.0 16.7,124.4 20.0,124.8C23.3,125.2 26.7,125.6 30.0,126.3C33.3,127.0 37.0,128.0 40.0,128.8C43.0,129.6 46.7,130.9 48.0,131.3C49.8,133.2 50.5,138.6 51.0,140.0L-5.0,140.0L-5.0,122.8Z" fill="#ffd21e" />
<path d="M-5.0,123.8C-2.5,124.0 5.8,124.5 10.0,125.1C11.7,125.5 16.8,126.4 20.0,127.3C23.2,128.2 27.5,129.8 29.0,130.3C31.2,132.4 32.3,138.4 33.0,140.0L-5.0,140.0L-5.0,123.8Z" fill="#ffa010" />
<path d="M-5.0,125.8C-2.8,126.0 4.5,126.2 8.0,126.8C9.3,127.2 13.7,128.4 16.0,129.3C18.3,130.2 21.0,131.8 22.0,132.3C23.3,134.1 23.7,138.7 24.0,140.0L-5.0,140.0L-5.0,125.8Z" fill="#ff6c08" />
<path d="M-5.0,129.3C-3.2,129.5 3.3,129.8 6.0,130.3C6.8,130.7 10.2,132.1 11.0,132.5C12.2,134.1 12.7,138.8 13.0,140.0L-5.0,140.0L-5.0,129.3Z" fill="#ff2a08" />
<path d="M-2.5,69.1C-1.7,69.4 0.7,69.9 2.0,70.6C2.5,71.1 4.7,71.8 5.4,73.5C6.1,75.2 5.8,79.7 5.9,80.9C4.6,82.1 -1.1,80.9 -2.5,80.9L-2.5,69.1Z" fill="#ffffbe" />
<rect x="0.0" y="132.8" width="134.2" height="1.2" fill="#e8f4fa" opacity="0.5"/>
</g></g>
<rect x="0" y="0" width="134.2" height="134.0" fill="none" stroke="#2a2a2a" stroke-width="0.7"/>
<path d="M0.00,134.0v3.6M0.00,0v-3.6M33.55,134.0v3.6M33.55,0v-3.6M67.10,134.0v3.6M67.10,0v-3.6M100.65,134.0v3.6M100.65,0v-3.6M134.20,134.0v3.6M134.20,0v-3.6M0,134.00h-3.2M134.2,134.00h3.2M0,127.30h-1.6M134.2,127.30h1.6M0,120.60h-1.6M134.2,120.60h1.6M0,113.90h-3.2M134.2,113.90h3.2M0,107.20h-1.6M134.2,107.20h1.6M0,100.50h-1.6M134.2,100.50h1.6M0,93.80h-3.2M134.2,93.80h3.2M0,87.10h-1.6M134.2,87.10h1.6M0,80.40h-1.6M134.2,80.40h1.6M0,73.70h-3.2M134.2,73.70h3.2M0,67.00h-1.6M134.2,67.00h1.6M0,60.30h-1.6M134.2,60.30h1.6M0,53.60h-3.2M134.2,53.60h3.2M0,46.90h-1.6M134.2,46.90h1.6M0,40.20h-1.6M134.2,40.20h1.6M0,33.50h-3.2M134.2,33.50h3.2M0,26.80h-1.6M134.2,26.80h1.6M0,20.10h-1.6M134.2,20.10h1.6M0,13.40h-3.2M134.2,13.40h3.2M0,6.70h-1.6M134.2,6.70h1.6M0,0.00h-1.6M134.2,0.00h1.6" stroke="#2a2a2a" stroke-width="0.8" fill="none"/>
<text transform="translate(-6.0,137.7) scale(0.87,1)" font-size="9.6" text-anchor="end" class="b">0</text>
<text transform="translate(-6.0,117.6) scale(0.87,1)" font-size="9.6" text-anchor="end" class="b">3,000</text>
<text transform="translate(-6.0,97.5) scale(0.87,1)" font-size="9.6" text-anchor="end" class="b">6,000</text>
<text transform="translate(-6.0,77.4) scale(0.87,1)" font-size="9.6" text-anchor="end" class="b">9,000</text>
<text transform="translate(-6.0,57.3) scale(0.87,1)" font-size="9.6" text-anchor="end" class="b">12,000</text>
<text transform="translate(-6.0,37.2) scale(0.87,1)" font-size="9.6" text-anchor="end" class="b">15,000</text>
<text transform="translate(-6.0,17.1) scale(0.87,1)" font-size="9.6" text-anchor="end" class="b">18,000</text>
<text transform="translate(-0.2,147.3) scale(0.86,1)" font-size="9.3" text-anchor="middle" class="b">20.80<tspan font-size="5.4" dy="-3.6" class="n">o</tspan><tspan dy="3.6">N</tspan></text>
<text transform="translate(-0.2,156.2) scale(0.86,1)" font-size="9.3" text-anchor="middle" class="b">116.74<tspan font-size="5.4" dy="-3.6" class="n">o</tspan><tspan dy="3.6">E</tspan></text>
<text transform="translate(33.3,147.3) scale(0.86,1)" font-size="9.3" text-anchor="middle" class="b">20.88<tspan font-size="5.4" dy="-3.6" class="n">o</tspan><tspan dy="3.6">N</tspan></text>
<text transform="translate(33.3,156.2) scale(0.86,1)" font-size="9.3" text-anchor="middle" class="b">117.02<tspan font-size="5.4" dy="-3.6" class="n">o</tspan><tspan dy="3.6">E</tspan></text>
<text transform="translate(66.9,147.3) scale(0.86,1)" font-size="9.3" text-anchor="middle" class="b">20.96<tspan font-size="5.4" dy="-3.6" class="n">o</tspan><tspan dy="3.6">N</tspan></text>
<text transform="translate(66.9,156.2) scale(0.86,1)" font-size="9.3" text-anchor="middle" class="b">117.30<tspan font-size="5.4" dy="-3.6" class="n">o</tspan><tspan dy="3.6">E</tspan></text>
<text transform="translate(100.4,147.3) scale(0.86,1)" font-size="9.3" text-anchor="middle" class="b">21.04<tspan font-size="5.4" dy="-3.6" class="n">o</tspan><tspan dy="3.6">N</tspan></text>
<text transform="translate(100.4,156.2) scale(0.86,1)" font-size="9.3" text-anchor="middle" class="b">117.58<tspan font-size="5.4" dy="-3.6" class="n">o</tspan><tspan dy="3.6">E</tspan></text>
<text transform="translate(134.0,147.3) scale(0.86,1)" font-size="9.3" text-anchor="middle" class="b">21.12<tspan font-size="5.4" dy="-3.6" class="n">o</tspan><tspan dy="3.6">N</tspan></text>
<text transform="translate(134.0,156.2) scale(0.86,1)" font-size="9.3" text-anchor="middle" class="b">117.86<tspan font-size="5.4" dy="-3.6" class="n">o</tspan><tspan dy="3.6">E</tspan></text>
<text x="0" y="-6.6" font-size="12" class="b">(d)</text>
<text x="28" y="-6.6" font-size="12" class="b">BouLac</text>
</g>
<g transform="translate(306.4,204.6)"><g clip-path="url(#cp)"><g filter="url(#bl05)">
<rect x="0" y="0" width="134.2" height="134.0" fill="url(#ge)"/>
<g filter="url(#bl2)">
<ellipse cx="58" cy="9.5" rx="46" ry="2.8" fill="#0a68f2" opacity="0.6"/>
</g>
<path d="M61.4,49.0C75.3,43.3 126.8,47.0 139.9,46.6L139.9,80.9C126.0,80.9 69.5,86.2 56.5,80.9C57.3,75.6 60.5,54.3 61.4,49.0Z" fill="#3cc6f2" />
<path d="M-3.4,25.0C2.8,25.0 21.9,25.1 33.8,25.3C39.4,25.4 56.8,26.2 67.5,26.0C78.2,25.8 89.4,24.5 97.9,24.3C106.3,24.1 115.0,22.8 118.1,25.0C121.3,27.1 119.6,34.5 116.8,37.1C114.0,39.7 105.4,40.5 101.2,40.5C97.1,40.5 94.3,36.0 91.8,37.1C89.3,38.2 89.0,45.0 86.1,47.2C83.1,49.5 77.6,48.9 74.2,50.6C70.9,52.3 68.9,54.6 66.2,57.4C63.5,60.2 57.8,63.6 58.0,67.5C58.3,71.4 65.1,76.5 67.5,81.0C69.9,85.5 73.1,91.1 72.6,94.5C72.0,97.9 67.8,99.6 64.1,101.2C60.5,102.9 55.7,104.6 50.6,104.6C45.6,104.6 39.4,100.7 33.8,101.2C28.1,101.8 20.8,105.5 16.9,108.0C12.9,110.5 11.2,115.0 10.1,116.4C6.8,118.1 -1.1,117.8 -3.4,118.1L-3.4,25.0Z" fill="#87dcf5" />
<path d="M-3.4,26.7C1.7,26.7 18.0,26.8 27.0,27.0C30.9,27.1 44.2,26.8 50.6,27.7C57.1,28.6 62.4,30.5 65.8,32.4C69.2,34.3 70.6,36.7 70.9,39.1C71.2,41.6 69.1,44.8 67.5,47.2C65.9,49.7 63.3,50.6 61.4,54.0C59.5,57.4 57.8,64.3 56.0,67.5C54.2,70.7 53.1,72.7 50.6,72.9C48.1,73.1 44.0,70.6 41.2,68.8C38.4,67.0 37.2,63.5 33.8,62.1C30.3,60.8 24.2,60.6 20.2,60.8C16.3,60.9 11.8,62.4 10.1,62.8C6.2,62.9 -1.1,61.6 -3.4,61.4L-3.4,26.7Z" fill="#aae6fa" />
<path d="M75.1,36.8C75.5,34.6 77.2,32.4 78.5,31.9C79.9,31.3 82.4,31.7 83.5,33.3C84.5,35.0 85.3,39.2 84.9,41.7C84.5,44.1 82.5,47.5 81.0,48.0C79.5,48.6 77.1,47.0 76.1,45.1C75.1,43.2 74.7,39.0 75.1,36.8Z" fill="#aae6fa" />
<path d="M120.3,49.0C120.7,47.7 122.7,47.1 124.0,47.5C125.2,48.0 127.4,50.5 127.6,52.0C127.9,53.4 126.7,55.8 125.7,56.4C124.6,56.9 122.2,56.6 121.3,55.4C120.4,54.2 119.8,50.3 120.3,49.0Z" fill="#46c8f0" />
<path d="M-2.5,29.4C0.4,29.6 8.2,30.2 14.7,30.4C18.4,30.4 31.1,30.2 36.8,30.6C42.5,31.1 45.7,31.5 49.1,33.1C52.5,34.7 57.0,37.8 57.2,40.4C57.4,43.1 53.5,46.9 50.1,49.0C46.7,51.1 41.1,51.5 36.8,52.9C32.6,54.4 28.6,56.6 24.5,57.8C20.5,59.1 14.3,59.9 12.3,60.3C7.8,60.3 0.0,58.3 -2.5,57.8L-2.5,29.4Z" fill="#ffffbe" />
<path d="M-2.5,32.4C0.4,32.4 8.6,32.7 14.7,32.8C18.0,32.9 29.1,32.7 34.4,33.3C39.6,34.0 43.7,35.5 46.1,36.8C48.6,38.1 49.8,39.3 49.1,41.2C48.4,43.1 45.4,46.2 41.7,48.0C38.0,49.9 31.9,51.3 27.0,52.5C22.1,53.6 14.7,54.5 12.3,54.9C7.4,55.1 0.0,53.7 -2.5,53.4L-2.5,32.4Z" fill="#fff48a" />
<path d="M5.4,37.3C6.6,36.1 9.9,36.3 12.3,36.3C14.6,36.3 17.5,36.5 19.6,37.3C21.8,38.0 25.4,39.4 25.0,40.7C24.7,42.0 20.5,43.9 17.7,45.1C14.9,46.3 10.5,48.4 8.3,48.0C6.2,47.7 5.4,44.9 4.9,43.1C4.4,41.3 4.2,38.4 5.4,37.3Z" fill="#ffe850" />
<path d="M73.6,57.5C85.1,53.9 128.9,57.5 139.9,57.5L139.9,140.9L19.6,140.9C19.6,138.0 16.8,127.8 19.6,123.7C22.5,122.5 29.5,118.8 36.8,116.4C44.2,113.9 57.7,112.3 63.8,109.0C70.0,105.8 72.4,101.7 73.6,96.8C74.9,91.9 71.2,86.1 71.2,79.6C71.2,73.1 73.2,61.2 73.6,57.5Z" fill="#3cc6f2" />
<path d="M139.9,64.9C135.8,65.3 122.3,66.1 115.4,67.4C112.5,68.2 102.1,69.8 98.2,72.3C94.3,74.7 92.6,78.0 91.8,82.1C91.0,86.1 93.8,92.7 93.3,96.8C92.7,100.8 87.5,103.7 88.4,106.6C89.2,109.4 93.7,111.9 98.2,113.9C102.7,116.0 111.3,116.8 115.4,118.8C119.5,120.9 121.5,125.0 122.7,126.2C126.8,127.8 137.0,128.2 139.9,128.6L139.9,64.9Z" fill="#1cc4fa" />
<path d="M139.9,69.8C136.2,70.1 124.0,70.5 117.8,71.8C115.4,72.7 106.4,74.6 103.1,77.2C99.8,79.7 98.6,83.7 98.2,87.0C97.8,90.2 98.6,93.5 100.6,96.8C102.7,100.0 106.0,103.9 110.5,106.6C115.0,109.2 124.8,111.7 127.6,112.7C132.5,113.9 137.9,113.7 139.9,113.9L139.9,69.8Z" fill="#0cbcfe" />
<path d="M139.9,73.7C137.0,74.1 127.7,74.5 122.7,75.7C120.6,76.5 112.7,78.4 110.0,80.6C107.2,82.8 105.9,86.1 106.0,88.9C106.2,91.7 108.2,94.7 110.9,97.3C113.7,99.8 120.8,103.0 122.7,104.1C127.6,105.7 137.0,106.2 139.9,106.6L139.9,73.7Z" fill="#06b0ff" />
<path d="M139.9,76.2C137.9,76.5 131.7,77.0 127.6,78.1C125.6,79.0 117.7,81.2 115.4,83.0C113.0,84.9 113.0,87.3 113.4,89.4C113.8,91.5 115.0,93.9 117.8,95.8C120.6,97.7 128.0,99.9 130.1,100.7C133.8,101.7 138.3,101.5 139.9,101.7L139.9,76.2Z" fill="#05a4ff" />
<path d="M115.4,86.5C116.0,85.2 118.8,83.7 121.5,83.0C124.2,82.4 129.7,82.6 131.3,82.5C134.4,82.8 138.5,84.2 139.9,84.5L139.9,99.2C138.7,98.8 135.0,97.9 132.5,96.8C131.3,96.0 127.6,93.3 125.2,92.4C122.7,91.4 119.5,91.9 117.8,90.9C116.2,89.9 114.8,87.8 115.4,86.5Z" fill="#0596ff" />
<path d="M19.6,121.3C22.5,120.7 30.7,118.3 36.8,117.8C43.0,117.4 52.9,117.0 56.5,118.8C60.0,120.6 57.7,127.0 57.9,128.6C57.5,132.3 54.7,138.8 54.0,140.9L17.2,140.9C17.6,137.6 16.4,125.1 19.6,121.3Z" fill="#1cc4fa" />
<path d="M-2.5,78.6C-1.2,79.0 2.7,79.8 4.9,80.6C5.9,81.1 9.5,82.2 10.8,83.5C12.1,84.8 12.9,87.0 12.8,88.4C12.6,89.9 11.4,91.9 9.8,92.4C8.3,92.8 4.5,91.1 3.4,90.9C1.4,90.6 -1.5,90.5 -2.5,90.4L-2.5,78.6Z" fill="#ffffbe" />
<path d="M-2.5,80.6C-1.6,80.8 1.2,81.2 2.5,82.1C2.9,82.7 4.8,84.8 4.9,86.0C5.0,87.2 3.3,88.8 2.9,89.4C1.7,90.0 -1.6,89.4 -2.5,89.4L-2.5,80.6Z" fill="#fff48a" />
<path d="M56.0,121.3C56.8,118.7 60.5,116.9 63.8,115.9C67.2,114.9 72.0,114.7 76.1,115.4C80.2,116.0 84.7,117.8 88.4,119.8C92.0,121.8 97.4,125.4 98.2,127.6C99.0,129.9 97.4,132.5 93.3,133.5C89.2,134.5 79.4,133.9 73.6,133.5C67.9,133.1 61.9,133.1 58.9,131.1C56.0,129.0 55.1,123.8 56.0,121.3Z" fill="#aae6fa" />
<path d="M65.8,124.2C66.8,123.1 70.7,121.9 73.6,121.8C76.6,121.6 80.3,122.2 83.5,123.2C86.6,124.3 91.5,126.7 92.3,128.1C93.1,129.5 91.1,131.1 88.4,131.6C85.7,132.1 79.5,131.6 76.1,131.1C72.7,130.6 69.5,129.8 67.7,128.6C66.0,127.5 64.8,125.4 65.8,124.2Z" fill="#ffffbe" />
<path d="M68.7,124.7C69.1,123.8 73.6,123.1 76.1,123.2C78.5,123.4 82.4,124.8 83.5,125.7C84.5,126.6 84.1,128.1 82.5,128.6C80.8,129.1 75.9,129.3 73.6,128.6C71.3,128.0 68.3,125.6 68.7,124.7Z" fill="#fff48a" />
<path d="M12.0,80.0C13.2,78.0 17.0,77.3 20.0,78.0C23.0,78.7 28.0,81.7 30.0,84.0C32.0,86.3 32.7,89.7 32.0,92.0C31.3,94.3 28.3,97.3 26.0,98.0C23.7,98.7 20.2,97.3 18.0,96.0C15.8,94.7 14.0,92.7 13.0,90.0C12.0,87.3 10.8,82.0 12.0,80.0Z" fill="#aae6fa" />
<path d="M19.0,122.0C19.7,119.1 21.5,116.0 24.0,114.5C26.5,113.0 31.0,112.9 34.0,113.0C37.0,113.1 40.5,113.2 42.0,115.0C43.5,116.8 43.3,121.3 43.0,124.0C42.7,126.7 42.2,129.5 40.0,131.0C37.8,132.5 33.3,132.8 30.0,133.0C26.7,133.2 21.8,133.8 20.0,132.0C18.2,130.2 18.3,124.9 19.0,122.0Z" fill="#0cbcfe" />
<path d="M20.5,125.0C20.8,123.4 22.2,122.0 24.0,121.5C25.8,121.0 29.6,121.1 31.0,122.0C32.4,122.9 32.8,125.4 32.5,127.0C32.2,128.6 30.8,130.8 29.0,131.5C27.2,132.2 23.4,132.1 22.0,131.0C20.6,129.9 20.2,126.6 20.5,125.0Z" fill="#06b0ff" />
<path d="M-5.0,122.3L0.0,122.3L2.0,122.8L4.4,121.6L6.5,124.3L8.7,122.1L11.0,124.8L13.0,122.4L15.0,125.8L16.2,130.8L16.6,134.4L17.4,140.0L-5.0,140.0Z" fill="#ffffbe" />
<path d="M-5.0,123.5L0.0,123.5L2.0,124.0L4.4,122.8L6.5,125.5L8.7,123.3L11.0,126.0L13.0,123.6L15.0,127.0L16.2,132.0L17.0,140.0L-5.0,140.0Z" fill="#ffd21e" />
<path d="M-5.0,125.3L0.0,125.3L2.0,125.8L4.4,124.6L6.5,127.3L8.7,125.1L11.0,127.8L13.0,125.4L15.0,128.8L16.2,133.8L17.0,140.0L-5.0,140.0Z" fill="#ffa010" />
<path d="M-5.0,127.8L0.0,127.8L2.0,128.3L4.4,127.1L6.5,129.8L8.7,127.6L11.0,130.3L13.0,127.9L15.0,131.3L15.8,140.0L-5.0,140.0Z" fill="#ff6c08" />
<path d="M-5.0,130.3L0.0,130.3L2.0,130.8L4.4,129.6L6.5,132.3L8.7,130.1L11.0,132.8L13.0,130.4L15.0,133.8L15.8,140.0L-5.0,140.0Z" fill="#ff2a08" />
<rect x="17.0" y="132.4" width="134.2" height="1.6" fill="#58c2f0" opacity="0.6"/>
</g></g>
<rect x="0" y="0" width="134.2" height="134.0" fill="none" stroke="#2a2a2a" stroke-width="0.7"/>
<path d="M0.00,134.0v3.6M0.00,0v-3.6M33.55,134.0v3.6M33.55,0v-3.6M67.10,134.0v3.6M67.10,0v-3.6M100.65,134.0v3.6M100.65,0v-3.6M134.20,134.0v3.6M134.20,0v-3.6M0,134.00h-3.2M134.2,134.00h3.2M0,127.30h-1.6M134.2,127.30h1.6M0,120.60h-1.6M134.2,120.60h1.6M0,113.90h-3.2M134.2,113.90h3.2M0,107.20h-1.6M134.2,107.20h1.6M0,100.50h-1.6M134.2,100.50h1.6M0,93.80h-3.2M134.2,93.80h3.2M0,87.10h-1.6M134.2,87.10h1.6M0,80.40h-1.6M134.2,80.40h1.6M0,73.70h-3.2M134.2,73.70h3.2M0,67.00h-1.6M134.2,67.00h1.6M0,60.30h-1.6M134.2,60.30h1.6M0,53.60h-3.2M134.2,53.60h3.2M0,46.90h-1.6M134.2,46.90h1.6M0,40.20h-1.6M134.2,40.20h1.6M0,33.50h-3.2M134.2,33.50h3.2M0,26.80h-1.6M134.2,26.80h1.6M0,20.10h-1.6M134.2,20.10h1.6M0,13.40h-3.2M134.2,13.40h3.2M0,6.70h-1.6M134.2,6.70h1.6M0,0.00h-1.6M134.2,0.00h1.6" stroke="#2a2a2a" stroke-width="0.8" fill="none"/>
<text transform="translate(-6.0,137.7) scale(0.87,1)" font-size="9.6" text-anchor="end" class="b">0</text>
<text transform="translate(-6.0,117.6) scale(0.87,1)" font-size="9.6" text-anchor="end" class="b">3,000</text>
<text transform="translate(-6.0,97.5) scale(0.87,1)" font-size="9.6" text-anchor="end" class="b">6,000</text>
<text transform="translate(-6.0,77.4) scale(0.87,1)" font-size="9.6" text-anchor="end" class="b">9,000</text>
<text transform="translate(-6.0,57.3) scale(0.87,1)" font-size="9.6" text-anchor="end" class="b">12,000</text>
<text transform="translate(-6.0,37.2) scale(0.87,1)" font-size="9.6" text-anchor="end" class="b">15,000</text>
<text transform="translate(-6.0,17.1) scale(0.87,1)" font-size="9.6" text-anchor="end" class="b">18,000</text>
<text transform="translate(-0.2,147.3) scale(0.86,1)" font-size="9.3" text-anchor="middle" class="b">20.80<tspan font-size="5.4" dy="-3.6" class="n">o</tspan><tspan dy="3.6">N</tspan></text>
<text transform="translate(-0.2,156.2) scale(0.86,1)" font-size="9.3" text-anchor="middle" class="b">116.74<tspan font-size="5.4" dy="-3.6" class="n">o</tspan><tspan dy="3.6">E</tspan></text>
<text transform="translate(33.3,147.3) scale(0.86,1)" font-size="9.3" text-anchor="middle" class="b">20.88<tspan font-size="5.4" dy="-3.6" class="n">o</tspan><tspan dy="3.6">N</tspan></text>
<text transform="translate(33.3,156.2) scale(0.86,1)" font-size="9.3" text-anchor="middle" class="b">117.02<tspan font-size="5.4" dy="-3.6" class="n">o</tspan><tspan dy="3.6">E</tspan></text>
<text transform="translate(66.9,147.3) scale(0.86,1)" font-size="9.3" text-anchor="middle" class="b">20.96<tspan font-size="5.4" dy="-3.6" class="n">o</tspan><tspan dy="3.6">N</tspan></text>
<text transform="translate(66.9,156.2) scale(0.86,1)" font-size="9.3" text-anchor="middle" class="b">117.30<tspan font-size="5.4" dy="-3.6" class="n">o</tspan><tspan dy="3.6">E</tspan></text>
<text transform="translate(100.4,147.3) scale(0.86,1)" font-size="9.3" text-anchor="middle" class="b">21.04<tspan font-size="5.4" dy="-3.6" class="n">o</tspan><tspan dy="3.6">N</tspan></text>
<text transform="translate(100.4,156.2) scale(0.86,1)" font-size="9.3" text-anchor="middle" class="b">117.58<tspan font-size="5.4" dy="-3.6" class="n">o</tspan><tspan dy="3.6">E</tspan></text>
<text transform="translate(134.0,147.3) scale(0.86,1)" font-size="9.3" text-anchor="middle" class="b">21.12<tspan font-size="5.4" dy="-3.6" class="n">o</tspan><tspan dy="3.6">N</tspan></text>
<text transform="translate(134.0,156.2) scale(0.86,1)" font-size="9.3" text-anchor="middle" class="b">117.86<tspan font-size="5.4" dy="-3.6" class="n">o</tspan><tspan dy="3.6">E</tspan></text>
<text x="0" y="-6.6" font-size="12" class="b">(e)</text>
<text x="28" y="-6.6" font-size="12" class="b">Shin-Hong</text>
</g>
<rect x="128.30" y="377.8" width="9.20" height="7.8" fill="#a828f8"/>
<rect x="137.40" y="377.8" width="9.20" height="7.8" fill="#6e20f8"/>
<rect x="146.50" y="377.8" width="9.20" height="7.8" fill="#2e18f8"/>
<rect x="155.60" y="377.8" width="9.20" height="7.8" fill="#0c10f8"/>
<rect x="164.70" y="377.8" width="9.20" height="7.8" fill="#0f41fa"/>
<rect x="173.80" y="377.8" width="9.20" height="7.8" fill="#1e64f0"/>
<rect x="182.90" y="377.8" width="9.20" height="7.8" fill="#057dfa"/>
<rect x="192.00" y="377.8" width="9.20" height="7.8" fill="#058cff"/>
<rect x="201.10" y="377.8" width="9.20" height="7.8" fill="#059bff"/>
<rect x="210.20" y="377.8" width="9.20" height="7.8" fill="#05aaff"/>
<rect x="219.30" y="377.8" width="9.20" height="7.8" fill="#05b9ff"/>
<rect x="228.40" y="377.8" width="9.20" height="7.8" fill="#0ac3ff"/>
<rect x="237.50" y="377.8" width="9.20" height="7.8" fill="#1ec8fa"/>
<rect x="246.60" y="377.8" width="9.20" height="7.8" fill="#46c8f0"/>
<rect x="255.70" y="377.8" width="9.20" height="7.8" fill="#87dcf5"/>
<rect x="264.80" y="377.8" width="9.20" height="7.8" fill="#aae6fa"/>
<rect x="273.90" y="377.8" width="9.20" height="7.8" fill="#ffffc6"/>
<rect x="283.00" y="377.8" width="9.20" height="7.8" fill="#fff48e"/>
<rect x="292.10" y="377.8" width="9.20" height="7.8" fill="#ffee64"/>
<rect x="301.20" y="377.8" width="9.20" height="7.8" fill="#ffe01e"/>
<rect x="310.30" y="377.8" width="9.20" height="7.8" fill="#ffcc14"/>
<rect x="319.40" y="377.8" width="9.20" height="7.8" fill="#ffb40f"/>
<rect x="328.50" y="377.8" width="9.20" height="7.8" fill="#ffa00a"/>
<rect x="337.60" y="377.8" width="9.20" height="7.8" fill="#ff820a"/>
<rect x="346.70" y="377.8" width="9.20" height="7.8" fill="#ff7800"/>
<rect x="355.80" y="377.8" width="9.20" height="7.8" fill="#ff460a"/>
<rect x="364.90" y="377.8" width="9.20" height="7.8" fill="#ff140f"/>
<rect x="374.00" y="377.8" width="9.20" height="7.8" fill="#fa0a0f"/>
<rect x="383.10" y="377.8" width="9.20" height="7.8" fill="#fa050f"/>
<rect x="392.20" y="377.8" width="9.20" height="7.8" fill="#f00a14"/>
<rect x="401.30" y="377.8" width="9.20" height="7.8" fill="#f52832"/>
<rect x="410.40" y="377.8" width="9.20" height="7.8" fill="#fa6469"/>
<rect x="419.50" y="377.8" width="9.20" height="7.8" fill="#ffb4b9"/>
<path d="M137.40,377.8v7.8M146.50,377.8v7.8M155.60,377.8v7.8M164.70,377.8v7.8M173.80,377.8v7.8M182.90,377.8v7.8M192.00,377.8v7.8M201.10,377.8v7.8M210.20,377.8v7.8M219.30,377.8v7.8M228.40,377.8v7.8M237.50,377.8v7.8M246.60,377.8v7.8M255.70,377.8v7.8M264.80,377.8v7.8M273.90,377.8v7.8M283.00,377.8v7.8M292.10,377.8v7.8M301.20,377.8v7.8M310.30,377.8v7.8M319.40,377.8v7.8M328.50,377.8v7.8M337.60,377.8v7.8M346.70,377.8v7.8M355.80,377.8v7.8M364.90,377.8v7.8M374.00,377.8v7.8M383.10,377.8v7.8M392.20,377.8v7.8M401.30,377.8v7.8M410.40,377.8v7.8M419.50,377.8v7.8" stroke="#222" stroke-width="0.5" opacity="0.75" fill="none"/>
<rect x="128.3" y="377.8" width="300.30" height="7.8" fill="none" stroke="#555" stroke-width="0.4"/>
<text x="136.9" y="396" font-size="10.7" text-anchor="middle" class="b">-40</text>
<text x="164.2" y="396" font-size="10.7" text-anchor="middle" class="b">-32.5</text>
<text x="191.5" y="396" font-size="10.7" text-anchor="middle" class="b">-25</text>
<text x="218.8" y="396" font-size="10.7" text-anchor="middle" class="b">-17.5</text>
<text x="246.1" y="396" font-size="10.7" text-anchor="middle" class="b">-10</text>
<text x="273.9" y="396" font-size="10.7" text-anchor="middle" class="b">0</text>
<text x="301.2" y="396" font-size="10.7" text-anchor="middle" class="b">7.5</text>
<text x="328.5" y="396" font-size="10.7" text-anchor="middle" class="b">15</text>
<text x="355.8" y="396" font-size="10.7" text-anchor="middle" class="b">22.5</text>
<text x="383.1" y="396" font-size="10.7" text-anchor="middle" class="b">30</text>
<text x="410.4" y="396" font-size="10.7" text-anchor="middle" class="b">37.5</text>
<text x="436.4" y="383.4" font-size="14.5">(m s<tspan font-size="7.6" dy="-6.6">-1</tspan><tspan dy="6.6">)</tspan></text>
</svg></body></html>
